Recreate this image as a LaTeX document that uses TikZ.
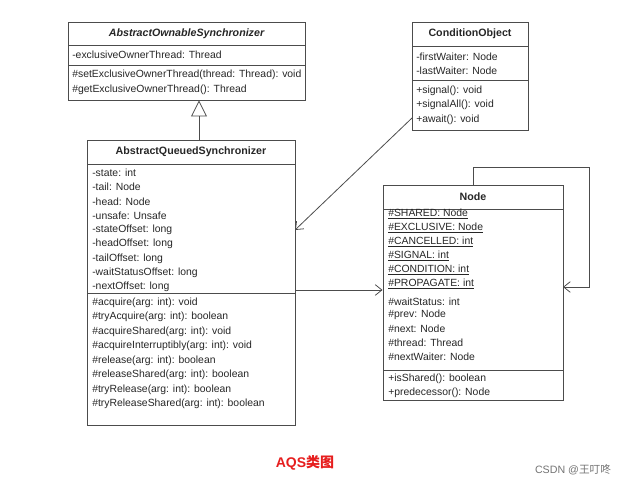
\documentclass[tikz,border=0pt]{standalone}
\usepackage{fontspec}
\setmainfont{Liberation Sans}
\newfontfamily\cjk{Noto Sans CJK SC}
\usetikzlibrary{fit,arrows.meta}
\begin{document}
\begin{tikzpicture}[x=0.75pt,y=-0.75pt,
  box/.style={draw=black!70,line width=0.7pt,fit=#1,inner sep=0pt},
  sep/.style={draw=black!70,line width=0.6pt},
  txt/.style={anchor=west,inner sep=0pt,font=\fontsize{7.8}{9}\selectfont,text=black!85},
  ttl/.style={inner sep=0pt,font=\fontsize{8}{9}\selectfont\bfseries,text=black!85},
  conn/.style={draw=black!70,line width=0.6pt,-{Straight Barb[length=5pt,width=8pt]}}]
\useasboundingbox (0,0) rectangle (627,491);
% AOS
\coordinate (a1) at (68,22); \coordinate (a2) at (305,100);
\node[box=(a1)(a2)] (aos) {};
\node[ttl,font=\fontsize{8}{9}\selectfont\bfseries\itshape] (aost) at (186.5,34) {AbstractOwnableSynchronizer};
\draw[sep] (68,45) -- (305,45); \draw[sep] (68,65) -- (305,65);
\node[txt] (aosa) at (72,55) {-exclusiveOwnerThread: Thread};
\node[txt] (aosm1) at (72,75) {\#setExclusiveOwnerThread(thread: Thread): void};
\node[txt] (aosm2) at (72,90) {\#getExclusiveOwnerThread(): Thread};
% Condition
\coordinate (c1) at (412,22); \coordinate (c2) at (528,130);
\node[box=(c1)(c2)] (cond) {};
\node[ttl] (condt) at (470,34) {ConditionObject};
\draw[sep] (412,46) -- (528,46); \draw[sep] (412,80) -- (528,80);
\foreach \t [count=\i] in {-firstWaiter: Node,-lastWaiter: Node}
  \node[txt] (ca\i) at (416,42+\i*14.5) {\t};
\foreach \t [count=\i] in {+signal(): void,+signalAll(): void,+await(): void}
  \node[txt] (cm\i) at (416,76+\i*14.5) {\t};
% AQS
\coordinate (q1) at (87,140); \coordinate (q2) at (295,425);
\node[box=(q1)(q2)] (aqs) {};
\node[ttl] (aqst) at (191,152) {AbstractQueuedSynchronizer};
\draw[sep] (87,164) -- (295,164); \draw[sep] (87,293) -- (295,293);
\foreach \t [count=\i] in {-state: int,-tail: Node,-head: Node,-unsafe: Unsafe,-stateOffset: long,-headOffset: long,-tailOffset: long,-waitStatusOffset: long,-nextOffset: long}
  \node[txt] (qa\i) at (92,158.5+\i*14.3) {\t};
\foreach \t [count=\i] in {\#acquire(arg: int): void,\#tryAcquire(arg: int): boolean,\#acquireShared(arg: int): void,\#acquireInterruptibly(arg: int): void,\#release(arg: int): boolean,\#releaseShared(arg: int): boolean,\#tryRelease(arg: int): boolean,\#tryReleaseShared(arg: int): boolean}
  \node[txt] (qm\i) at (92,288+\i*14.5) {\t};
% Node
\coordinate (n1) at (383,185); \coordinate (n2) at (563,400);
\node[box=(n1)(n2)] (node) {};
\node[ttl] (nodet) at (473,197) {Node};
\draw[sep] (383,209) -- (563,209); \draw[sep] (383,370) -- (563,370);
\foreach \t [count=\i] in {\#SHARED: Node,\#EXCLUSIVE: Node,\#CANCELLED: int,\#SIGNAL: int,\#CONDITION: int,\#PROPAGATE: int}
  \node[txt] (nu\i) at (388,204+\i*13.9) {\underline{\smash{\t}}};
\foreach \t [count=\i] in {\#waitStatus: int,\#prev: Node,\#next: Node,\#thread: Thread,\#nextWaiter: Node}
  \node[txt] (na\i) at (388,287.4+\i*13.9) {\t};
\foreach \t [count=\i] in {+isShared(): boolean,+predecessor(): Node}
  \node[txt] (nm\i) at (388,365+\i*14) {\t};
% connectors
\coordinate (inh) at (199,140);
\draw[draw=black!70,line width=0.6pt,-{Triangle[open,length=12pt,width=12pt]}] (inh) -- (inh |- aos.south);
\coordinate (aqsr) at (295,290);
\draw[conn] (aqsr) -- (aqsr -| node.west);
\coordinate (condl) at (412,118);
\coordinate (aqsc) at (295,230);
\draw[conn] (condl) -- (aqsc);
\coordinate (lt) at (473,185);
\coordinate (lr) at (563,287);
\draw[conn] (lt) -- (473,167) -- (589,167) -- (589,287) -- (lr);
% captions
\node[inner sep=0pt,text={rgb,255:red,230;green,30;blue,30},font=\fontsize{10.5}{12}\selectfont\bfseries] (cap) at (305,463) {AQS{\cjk 类图}};
\node[inner sep=0pt,text=black!55,font=\fontsize{8}{9}\selectfont] (wm) at (573,470) {CSDN @{\cjk 王叮咚}};
\end{tikzpicture}
\end{document}
